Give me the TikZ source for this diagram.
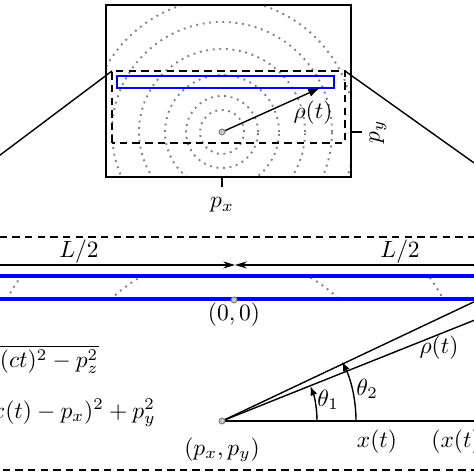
\documentclass[tikz,border=0pt]{standalone}
\usepackage{mathtools}
\usetikzlibrary{arrows.meta}

\tikzset{
	frame/.style={black, line width=0.9pt},
	thinline/.style={black, line width=0.6pt},
	ring/.style={gray, dotted, line width=0.8pt},
	window/.style={black, line width=0.7pt, dash pattern=on 3.2pt off 2.2pt},
	strip/.style={blue, line width=0.7pt},
	thickstrip/.style={blue, line width=1.5pt},
	src/.style={gray, fill=gray!45, line width=0.4pt},
}

\begin{document}
\begin{tikzpicture}[x=0.015cm, y=0.015cm]
		\useasboundingbox (0,0) rectangle (474,474);
		\clip (0,0) rectangle (474,474);
		% top view
		\coordinate (c) at (222,342);
		\coordinate (rho) at (320,386);
		\coordinate (dtl) at (112,403);
		\coordinate (dtr) at (345,403);
		\coordinate (dbl) at (112,331);
		\begin{scope}
			\clip (106,297) rectangle (351,469);
			\foreach \r in {22,36,57,83,110,133}
				\draw[ring] (c) circle (\r);
		\end{scope}
		\draw[frame] (106,297) rectangle (351,469);
		\draw[window] (dbl) rectangle (dtr);
		\draw[strip] (117,386) rectangle (334,398);
		\draw[thinline, -{Latex[length=5pt,width=3.5pt]}] (c) -- (rho);
		\filldraw[src] (c) circle (3);
		\node (rholbl) at (313,361) {$\rho(t)$};
		\coordinate (tyA) at (351,342);
		\coordinate (tyB) at (362,342);
		\draw[frame] (tyA) -- (tyB);
		\node[rotate=90] (pylbl) at (378,342) {$p_y$};
		\coordinate (txA) at (222,297);
		\coordinate (txB) at (222,287);
		\draw[frame] (txA) -- (txB);
		\node (pxlbl) at (222,269) {$p_x$};
		% zoomed view
		\coordinate (ztl) at (-109,237);
		\coordinate (ztr) at (578,237);
		\coordinate (zbl) at (-109,4);
		\draw[thinline] (dtl) -- (ztl);
		\draw[thinline] (dtr) -- (ztr);
		\draw[window] (zbl) rectangle (ztr);
		\begin{scope}
			\clip (-94,176) rectangle (563,197);
			\foreach \r in {167,250}
				\draw[ring] (225,53) circle (\r);
		\end{scope}
		\draw[thickstrip] (-94,175) rectangle (563,198);
		\coordinate (sl) at (-94,209);
		\coordinate (sr) at (563,209);
		\coordinate (mid) at (235,209);
		\draw[thinline, -{Stealth[length=5pt,width=3pt]}] (sl) -- (mid);
		\draw[thinline, -{Stealth[length=5pt,width=3pt]}] (sr) -- (mid);
		\node (hl) at (79,222) {$L/2$};
		\node (hr) at (400,222) {$L/2$};
		\coordinate (o) at (234,174);
		\filldraw[src] (o) circle (3);
		\node (olbl) at (234,159) {$(0,0)$};
		\coordinate (p) at (222,53);
		\coordinate (pend) at (500,53);
		\coordinate (xt) at (480,175);
		\coordinate (rt) at (560,188);
		\draw[thinline] (p) -- (pend);
		\draw[thinline] (p) -- (xt);
		\draw[thinline] (p) -- (rt);
		\draw[thinline, -{Latex[length=4pt,width=3pt]}] (p) ++(95,0) arc[start angle=0, end angle=21.6, radius=95];
		\draw[thinline, -{Latex[length=4pt,width=3pt]}] (p) ++(134,0) arc[start angle=0, end angle=26.3, radius=134];
		\filldraw[src] (p) circle (3);
		\node (plbl) at (222,24) {$(p_x,p_y)$};
		\node (th1) at (328,74) {$\theta_1$};
		\node (th2) at (367,85) {$\theta_2$};
		\node (rho2) at (439,126) {$\rho(t)$};
		\node (xlbl) at (377,32) {$x(t)$};
		\node[anchor=west, inner sep=0pt] (xylbl) at (431,32) {$(x(t),p_y)$};
		\node[anchor=east, inner sep=0pt] (eq1) at (99,114) {$\rho(t)=\sqrt{(ct)^2-p_z^2}$};
		\node[anchor=east, inner sep=0pt] (eq2) at (156,61) {$\rho(t)^2=(x(t)-p_x)^2+p_y^2$};
\end{tikzpicture}
\end{document}
